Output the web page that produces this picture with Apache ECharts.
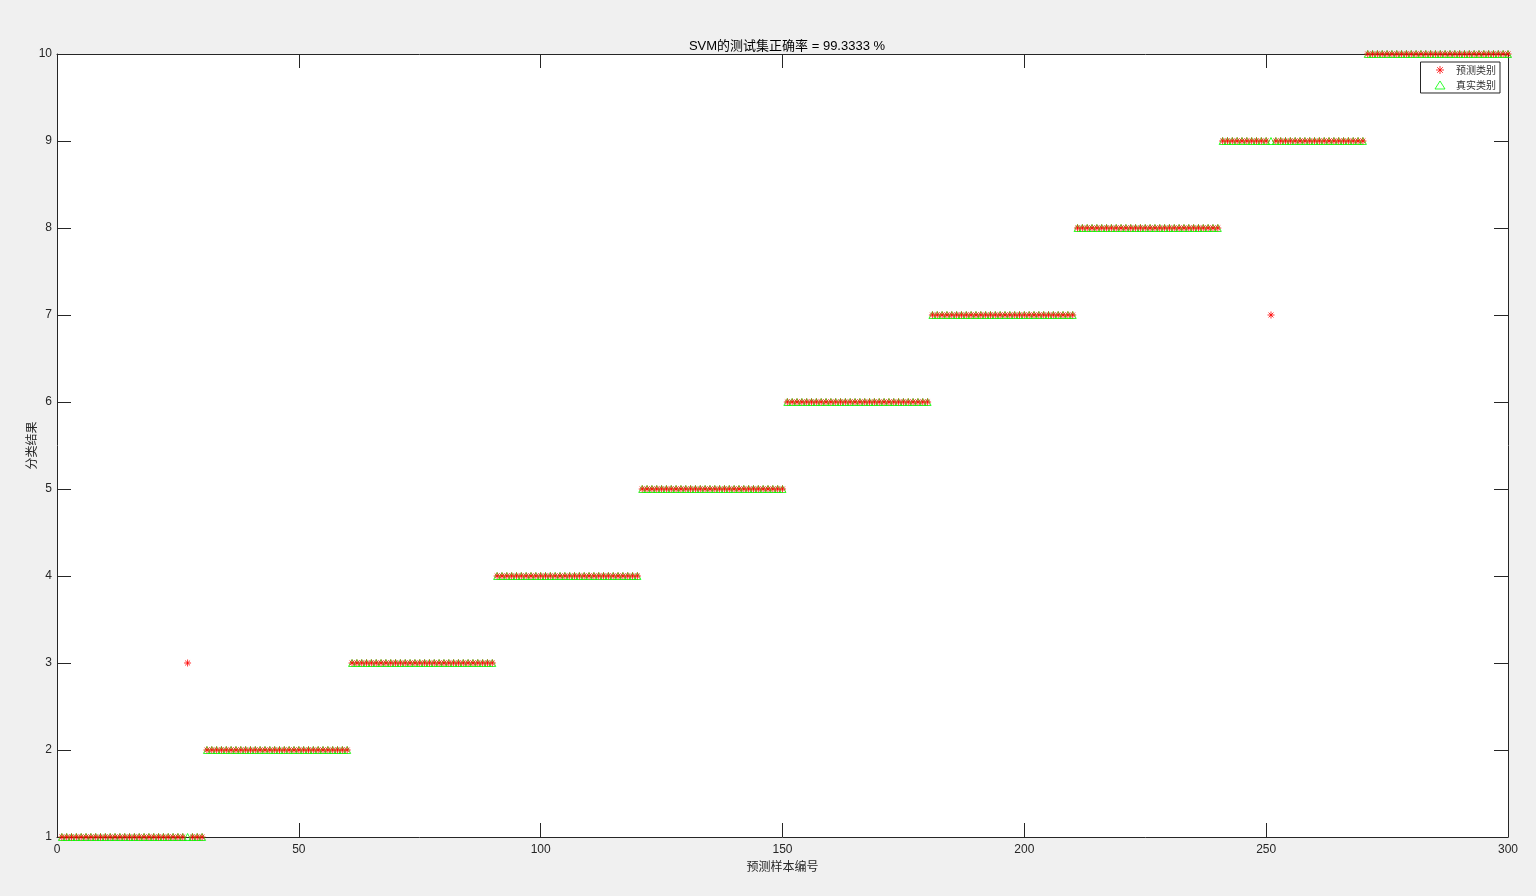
<!DOCTYPE html>
<html>
<head>
<meta charset="utf-8">
<script src="https://cdn.jsdelivr.net/npm/echarts@6/dist/echarts.min.js"></script>
<style>
  html, body { margin: 0; padding: 0; background: #f0f0f0; }
  #chart { width: 1536px; height: 896px; }
</style>
</head>
<body>
<div id="chart"></div>
<script>
// 预测类别 (predicted), one row per block of 30 samples
const predicted = [
  1,1,1,1,1,1,1,1,1,1,1,1,1,1,1,1,1,1,1,1,1,1,1,1,1,1,3,1,1,1,
  2,2,2,2,2,2,2,2,2,2,2,2,2,2,2,2,2,2,2,2,2,2,2,2,2,2,2,2,2,2,
  3,3,3,3,3,3,3,3,3,3,3,3,3,3,3,3,3,3,3,3,3,3,3,3,3,3,3,3,3,3,
  4,4,4,4,4,4,4,4,4,4,4,4,4,4,4,4,4,4,4,4,4,4,4,4,4,4,4,4,4,4,
  5,5,5,5,5,5,5,5,5,5,5,5,5,5,5,5,5,5,5,5,5,5,5,5,5,5,5,5,5,5,
  6,6,6,6,6,6,6,6,6,6,6,6,6,6,6,6,6,6,6,6,6,6,6,6,6,6,6,6,6,6,
  7,7,7,7,7,7,7,7,7,7,7,7,7,7,7,7,7,7,7,7,7,7,7,7,7,7,7,7,7,7,
  8,8,8,8,8,8,8,8,8,8,8,8,8,8,8,8,8,8,8,8,8,8,8,8,8,8,8,8,8,8,
  9,9,9,9,9,9,9,9,9,9,7,9,9,9,9,9,9,9,9,9,9,9,9,9,9,9,9,9,9,9,
  10,10,10,10,10,10,10,10,10,10,10,10,10,10,10,10,10,10,10,10,10,10,10,10,10,10,10,10,10,10
];
// 真实类别 (true labels)
const actual = [
  1,1,1,1,1,1,1,1,1,1,1,1,1,1,1,1,1,1,1,1,1,1,1,1,1,1,1,1,1,1,
  2,2,2,2,2,2,2,2,2,2,2,2,2,2,2,2,2,2,2,2,2,2,2,2,2,2,2,2,2,2,
  3,3,3,3,3,3,3,3,3,3,3,3,3,3,3,3,3,3,3,3,3,3,3,3,3,3,3,3,3,3,
  4,4,4,4,4,4,4,4,4,4,4,4,4,4,4,4,4,4,4,4,4,4,4,4,4,4,4,4,4,4,
  5,5,5,5,5,5,5,5,5,5,5,5,5,5,5,5,5,5,5,5,5,5,5,5,5,5,5,5,5,5,
  6,6,6,6,6,6,6,6,6,6,6,6,6,6,6,6,6,6,6,6,6,6,6,6,6,6,6,6,6,6,
  7,7,7,7,7,7,7,7,7,7,7,7,7,7,7,7,7,7,7,7,7,7,7,7,7,7,7,7,7,7,
  8,8,8,8,8,8,8,8,8,8,8,8,8,8,8,8,8,8,8,8,8,8,8,8,8,8,8,8,8,8,
  9,9,9,9,9,9,9,9,9,9,9,9,9,9,9,9,9,9,9,9,9,9,9,9,9,9,9,9,9,9,
  10,10,10,10,10,10,10,10,10,10,10,10,10,10,10,10,10,10,10,10,10,10,10,10,10,10,10,10,10,10
];
const xTicks = [0, 50, 100, 150, 200, 250, 300];
const yTicks = [1, 2, 3, 4, 5, 6, 7, 8, 9, 10];
const titleText = "SVM的测试集正确率 = 99.3333 %";

const axisColor = "#262626";
const font = "'Liberation Sans', 'Noto Sans CJK SC', sans-serif";
const cjkFont = "'Noto Sans CJK SC', sans-serif";
const starPath = "path://M5,0L5,10M0,5L10,5M1.5,1.5L8.5,8.5M1.5,8.5L8.5,1.5";

const myCharts = echarts.init(document.getElementById("chart"));

const predPoints = predicted.map((v, i) => [i + 1, v]);
const truePoints = actual.map((v, i) => [i + 1, v]);

const boxAxis = {
  axisLine: { show: true, onZero: false, lineStyle: { color: axisColor, width: 1 } },
  axisTick: { show: true, inside: true, length: 14, lineStyle: { color: axisColor, width: 1 } },
  splitLine: { show: false },
};

const option = {
  backgroundColor: "#f0f0f0",
  animation: false,
  textStyle: { fontFamily: font },
  title: {
    text: titleText,
    left: 782,
    top: 35,
    textAlign: "center",
    textStyle: { fontSize: 13, fontWeight: "normal", color: "#000", fontFamily: font },
  },
  grid: {
    left: 57,
    right: 28,
    top: 54,
    bottom: 59,
    show: true,
    backgroundColor: "#ffffff",
    borderWidth: 0,
  },
  legend: {
    orient: "vertical",
    right: 36,
    top: 62,
    itemWidth: 10,
    itemHeight: 8,
    itemGap: 5,
    padding: [3, 4, 3, 14],
    borderColor: axisColor,
    borderWidth: 1,
    backgroundColor: "#ffffff",
    borderRadius: 0,
    textStyle: { fontSize: 10, color: "#333", fontFamily: cjkFont, padding: [0, 0, 0, 6] },
    data: [
      { name: "预测类别", icon: starPath, itemStyle: { color: "transparent", borderColor: "#ff0000", borderWidth: 1 } },
      { name: "真实类别", icon: "triangle", itemStyle: { color: "transparent", borderColor: "#00ff00", borderWidth: 1 } },
    ],
  },
  xAxis: [
    Object.assign({}, boxAxis, {
      type: "value",
      min: 0,
      max: 300,
      interval: 50,
      position: "bottom",
      name: "预测样本编号",
      nameLocation: "middle",
      nameGap: 21,
      nameTextStyle: { fontSize: 12, color: axisColor, fontFamily: cjkFont },
      axisLabel: {
        fontSize: 12,
        color: axisColor,
        margin: 7,
        formatter: (v) => (xTicks.includes(v) ? String(v) : ""),
      },
    }),
    Object.assign({}, boxAxis, {
      type: "value",
      min: 0,
      max: 300,
      interval: 50,
      position: "top",
      axisLabel: { show: false },
    }),
  ],
  yAxis: [
    Object.assign({}, boxAxis, {
      type: "value",
      min: 1,
      max: 10,
      interval: 1,
      position: "left",
      name: "分类结果",
      nameLocation: "middle",
      nameGap: 20,
      nameMoveOverlap: false,
      nameRotate: 90,
      nameTextStyle: { fontSize: 12, color: axisColor, fontFamily: cjkFont },
      axisLabel: {
        fontSize: 12,
        color: axisColor,
        margin: 5,
        formatter: (v) => (yTicks.includes(v) ? String(v) : ""),
      },
    }),
    Object.assign({}, boxAxis, {
      type: "value",
      min: 1,
      max: 10,
      interval: 1,
      position: "right",
      axisLabel: { show: false },
    }),
  ],
  series: [
    {
      name: "预测类别",
      type: "scatter",
      data: predPoints,
      symbol: starPath,
      symbolSize: 7,
      clip: false,
      z: 3,
      itemStyle: { color: "transparent", borderColor: "#ff0000", borderWidth: 1 },
    },
    {
      name: "真实类别",
      type: "scatter",
      data: truePoints,
      symbol: "triangle",
      symbolSize: [7, 7],
      clip: false,
      z: 2,
      itemStyle: { color: "transparent", borderColor: "#00ff00", borderWidth: 1 },
    },
  ],
};

myCharts.setOption(option);
</script>
</body>
</html>
